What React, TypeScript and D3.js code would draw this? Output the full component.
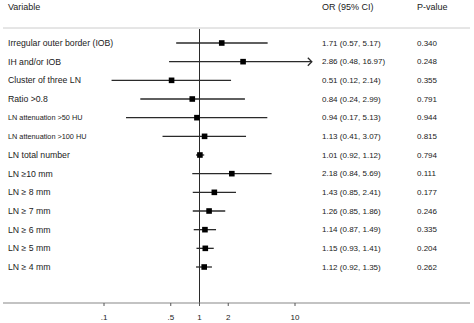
import React from "react";
import * as d3 from "d3";

const variables = [
  "Irregular outer border (IOB)",
  "IH and/or IOB",
  "Cluster of three LN",
  "Ratio >0.8",
  "LN attenuation >50 HU",
  "LN attenuation >100 HU",
  "LN total number",
  "LN \u226510 mm",
  "LN \u2265 8 mm",
  "LN \u2265 7 mm",
  "LN \u2265 6 mm",
  "LN \u2265 5 mm",
  "LN \u2265 4 mm",
];
const smallLabel = [false, false, false, false, true, true, false, false, false, false, false, false, false];
const orValues = [1.71, 2.86, 0.51, 0.84, 0.94, 1.13, 1.01, 2.18, 1.43, 1.26, 1.14, 1.15, 1.12];
const ciLow = [0.57, 0.48, 0.12, 0.24, 0.17, 0.41, 0.92, 0.84, 0.85, 0.85, 0.87, 0.93, 0.92];
const ciHigh = [5.17, 16.97, 2.14, 2.99, 5.13, 3.07, 1.12, 5.69, 2.41, 1.86, 1.49, 1.41, 1.35];
const pValues = ["0.340", "0.248", "0.355", "0.791", "0.944", "0.815", "0.794", "0.111", "0.177", "0.246", "0.335", "0.204", "0.262"];
const ticks = [0.1, 0.5, 1, 2, 10];
const tickLabels = [".1", ".5", "1", "2", "10"];
const clipMax = 15;

const W = 474;
const H = 323;
const FONT = "'Liberation Sans', Arial, Helvetica, sans-serif";

export default function App() {
  const x = d3.scaleLog().domain([0.1, 10]).range([104, 295]);
  const y = d3.scaleLinear().domain([0, variables.length - 1]).range([43, 267]);
  const axisY = 303;
  const topY = 28;
  const fmt = d3.format(".2f");
  const txt = "#1a1a1a";
  const ln = "#2a2a2a";

  return (
    <svg width={W} height={H} style={{ position: "absolute", left: 0, top: 0, background: "#fff" }} fontFamily={FONT}>
      <text x={8} y={9.5} fontSize={9} fill={txt}>Variable</text>
      <text x={322} y={9.5} fontSize={9} fill={txt}>OR (95% CI)</text>
      <text x={417} y={9.5} fontSize={9} fill={txt}>P-value</text>
      <line x1={3} x2={470} y1={topY} y2={topY} stroke="#ccc" strokeWidth={1} />
      <line x1={x(1)} x2={x(1)} y1={topY + 1} y2={axisY} stroke={ln} strokeWidth={1} />
      {variables.map((v, i) => {
        const yy = y(i);
        const hi = Math.min(ciHigh[i], clipMax);
        const clipped = ciHigh[i] > clipMax;
        const x2 = x(hi);
        return (
          <g key={i}>
            <text x={8} y={yy} dy="0.35em" fontSize={smallLabel[i] ? 7.3 : 8.7} fill={txt}>{v}</text>
            <line x1={x(ciLow[i])} x2={x2} y1={yy} y2={yy} stroke={ln} strokeWidth={1.3} />
            {clipped && (
              <path d={`M${x2 - 4},${yy - 4} L${x2},${yy} L${x2 - 4},${yy + 4}`} fill="none" stroke={ln} strokeWidth={1.3} />
            )}
            <rect x={x(orValues[i]) - 2.8} y={yy - 2.8} width={5.6} height={5.6} fill="#000" />
            <text x={322} y={yy} dy="0.35em" fontSize={8} fill={txt}>
              {`${fmt(orValues[i])} (${fmt(ciLow[i])}, ${fmt(ciHigh[i])})`}
            </text>
            <text x={417} y={yy} dy="0.35em" fontSize={8} fill={txt}>{pValues[i]}</text>
          </g>
        );
      })}
      <line x1={3} x2={470} y1={axisY} y2={axisY} stroke="#888" strokeWidth={1.2} />
      {ticks.map((t, i) => (
        <g key={t}>
          <line x1={x(t)} x2={x(t)} y1={axisY} y2={axisY + 3} stroke="#555" strokeWidth={1} />
          <text x={x(t)} y={317} textAnchor="middle" dy="0.35em" fontSize={8} fill={txt}>{tickLabels[i]}</text>
        </g>
      ))}
    </svg>
  );
}
